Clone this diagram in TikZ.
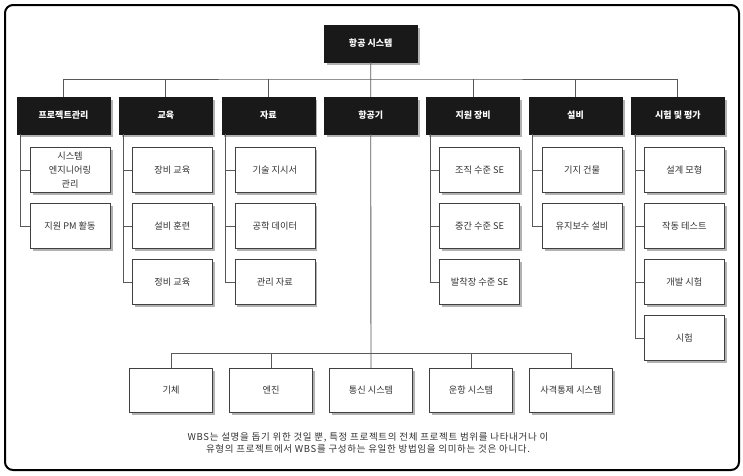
\documentclass[tikz,border=0pt]{standalone}
\usepackage{fontspec}
\setmainfont{Noto Sans CJK KR}
\usepackage{tikz}
\usetikzlibrary{positioning,shadows}

\begin{document}
\begin{tikzpicture}[x=1pt,y=-1pt,
  shade box/.style={drop shadow={shadow xshift=2.5pt,shadow yshift=-2.5pt,fill=black!30,opacity=1}},
  head/.style={shade box,draw=black!90,fill=black!90,text=white,font=\bfseries\fontsize{9}{10}\selectfont,minimum width=93pt,minimum height=37pt,inner sep=0pt},
  item/.style={shade box,draw=black!75,fill=white,text=black!80,font=\fontsize{9.2}{14}\selectfont,align=center,minimum width=80pt,minimum height=45pt,inner sep=0pt},
  link/.style={draw=black!65,line width=0.9pt}]
  \useasboundingbox (0,0) rectangle (743,475);
  \draw[line width=2pt,rounded corners=8pt] (5,5) rectangle (739,470);
  % top levels
  \node[head] (sys) at (370.7,43.5) {항공 시스템};
  \foreach \n/\t [count=\i from 0] in {pm/프로젝트관리,edu/교육,data/자료,ac/항공기,gse/지원 장비,fac/설비,test/시험 및 평가}
    \node[head] (\n) at (63.5+102.4*\i,115.5) {\t};
  \coordinate (top) at (370.7,79);
  \draw[link] (sys.south) -- (ac.north);
  \draw[link] (pm.north) |- (top) -| (test.north);
  \foreach \n in {edu,data,gse,fac}
    \draw[link] (\n.north) -- (\n.north |- top);
  % work packages
  \foreach \t [count=\k from 0] in {{시스템\\엔지니어링\\관리},지원 PM 활동}
    \node[item] (pm\k) at (70,170+56*\k) {\t};
  \foreach \t [count=\k from 0] in {장비 교육,설비 훈련,정비 교육}
    \node[item] (edu\k) at (172.4,170+56*\k) {\t};
  \foreach \t [count=\k from 0] in {기술 지시서,공학 데이터,관리 자료}
    \node[item] (data\k) at (274.8,170+56*\k) {\t};
  \foreach \t [count=\k from 0] in {조직 수준 SE,중간 수준 SE,발착장 수준 SE}
    \node[item] (gse\k) at (479.6,170+56*\k) {\t};
  \foreach \t [count=\k from 0] in {기지 건물,유지보수 설비}
    \node[item] (fac\k) at (582,170+56*\k) {\t};
  \foreach \t [count=\k from 0] in {설계 모형,작동 테스트,개발 시험,시험}
    \node[item] (test\k) at (684.4,170+56*\k) {\t};
  \foreach \p/\m in {pm/1,edu/2,data/2,gse/2,fac/1,test/3} {
    \coordinate (\p S) at ([xshift=4pt]\p.south west);
    \draw[link] (\p S) |- (\p\m.west);
    \foreach \k in {0,...,\m}
      \draw[link] (\p S |- \p\k.west) -- (\p\k.west);
  }
  % aircraft parts
  \foreach \n/\t [count=\i from 0] in {body/기체,eng/엔진,com/통신 시스템,nav/운항 시스템,fire/사격통제 시스템}
    \node[item,minimum width=83pt,minimum height=44pt] (\n) at (171+100*\i,390) {\t};
  \coordinate (bot) at (370.7,353);
  \draw[link] (ac.south) -- (com.north);
  \draw[link] (body.north) |- (bot) -| (fire.north);
  \foreach \n in {eng,nav}
    \draw[link] (\n.north) -- (\n.north |- bot);
  \node[font=\fontsize{9.5}{12}\selectfont\addfontfeature{LetterSpace=7},text=black!80,align=center] (note) at (368,443)
    {WBS는 설명을 돕기 위한 것일 뿐, 특정 프로젝트의 전체 프로젝트 범위를 나타내거나 이\\유형의 프로젝트에서 WBS를 구성하는 유일한 방법임을 의미하는 것은 아니다.};
\end{tikzpicture}
\end{document}
